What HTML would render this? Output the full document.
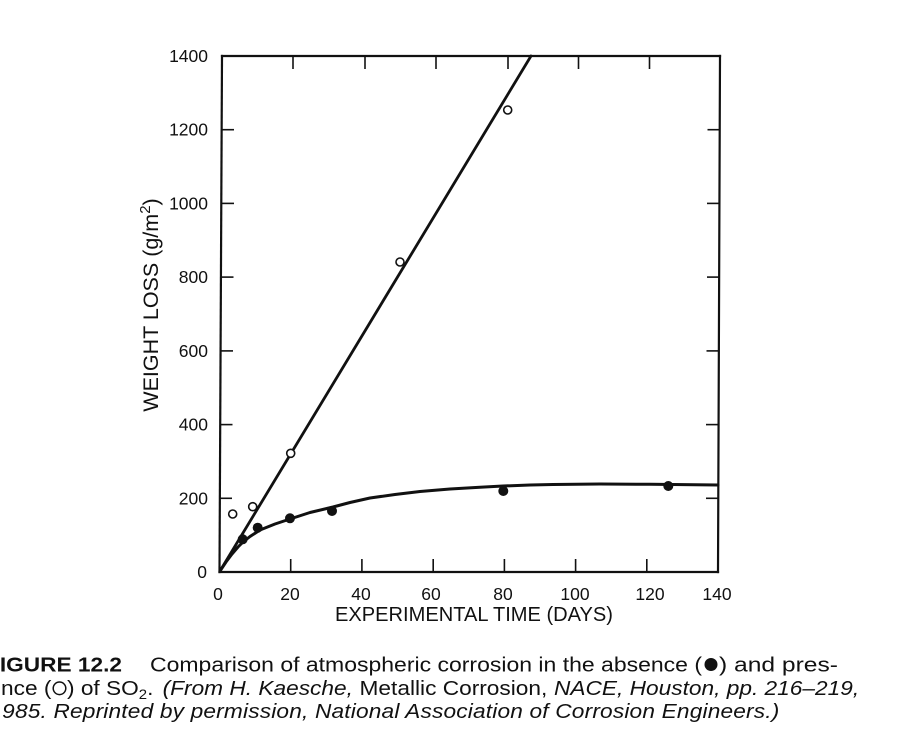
<!DOCTYPE html>
<html>
<head>
<meta charset="utf-8">
<style>
  html,body{margin:0;padding:0;background:#fff;}
  body{width:912px;height:748px;overflow:hidden;}
  svg{display:block;}
  text{font-family:"Liberation Sans", Arial, sans-serif;fill:#111;}
</style>
</head>
<body>
<svg width="912" height="748" viewBox="0 0 912 748" xmlns="http://www.w3.org/2000/svg">
  <rect width="912" height="748" fill="#fff"/>

  <!-- axes frame (slightly skewed like scan) -->
  <g stroke="#111" stroke-width="2.2" fill="none" stroke-linecap="square">
    <line x1="222" y1="56" x2="219.5" y2="572"/>
    <line x1="720" y1="56" x2="718" y2="572"/>
    <line x1="222" y1="56" x2="720" y2="56"/>
    <line x1="219.5" y1="572" x2="718" y2="572"/>
  </g>

  <!-- ticks -->
  <g stroke="#111" stroke-width="1.6">
    <line x1="290.7" y1="572" x2="290.7" y2="559"/>
    <line x1="361.9" y1="572" x2="361.9" y2="559"/>
    <line x1="433.2" y1="572" x2="433.2" y2="559"/>
    <line x1="504.4" y1="572" x2="504.4" y2="559"/>
    <line x1="575.6" y1="572" x2="575.6" y2="559"/>
    <line x1="646.8" y1="572" x2="646.8" y2="559"/>
    <line x1="293" y1="56" x2="293" y2="69"/>
    <line x1="365" y1="56" x2="365" y2="69"/>
    <line x1="436" y1="56" x2="436" y2="69"/>
    <line x1="508" y1="56" x2="508" y2="69"/>
    <line x1="578.5" y1="56" x2="578.5" y2="69"/>
    <line x1="649.5" y1="56" x2="649.5" y2="69"/>
    <line x1="219.8" y1="498.3" x2="232" y2="498.3"/>
    <line x1="220.2" y1="424.6" x2="232.5" y2="424.6"/>
    <line x1="220.5" y1="350.9" x2="233" y2="350.9"/>
    <line x1="220.9" y1="277.1" x2="233.5" y2="277.1"/>
    <line x1="221.2" y1="203.4" x2="234" y2="203.4"/>
    <line x1="221.6" y1="129.7" x2="234" y2="129.7"/>
    <line x1="706" y1="498.3" x2="718.3" y2="498.3"/>
    <line x1="706" y1="424.6" x2="718.6" y2="424.6"/>
    <line x1="706.5" y1="350.9" x2="718.9" y2="350.9"/>
    <line x1="707" y1="277.1" x2="719.2" y2="277.1"/>
    <line x1="707" y1="203.4" x2="719.4" y2="203.4"/>
    <line x1="707.5" y1="129.7" x2="719.7" y2="129.7"/>
  </g>

  <!-- y tick labels -->
  <g font-size="17.5" text-anchor="end">
    <text x="207" y="578">0</text>
    <text x="208" y="504.3">200</text>
    <text x="208" y="430.6">400</text>
    <text x="208" y="356.9">600</text>
    <text x="208" y="283.1">800</text>
    <text x="208" y="209.4">1000</text>
    <text x="208" y="135.7">1200</text>
    <text x="208" y="62">1400</text>
  </g>

  <!-- x tick labels -->
  <g font-size="17.5" text-anchor="middle">
    <text x="218" y="600">0</text>
    <text x="290" y="600">20</text>
    <text x="361" y="600">40</text>
    <text x="431" y="600">60</text>
    <text x="503" y="600">80</text>
    <text x="575" y="600">100</text>
    <text x="650" y="600">120</text>
    <text x="717" y="600">140</text>
  </g>

  <!-- axis titles -->
  <text x="335" y="621" font-size="20" textLength="278" lengthAdjust="spacingAndGlyphs">EXPERIMENTAL TIME (DAYS)</text>
  <text x="158" y="305" font-size="21.5" text-anchor="middle" transform="rotate(-90 158 305)">WEIGHT LOSS (g/m<tspan font-size="15" dy="-8">2</tspan><tspan dy="8">)</tspan></text>

  <!-- series: with SO2 (straight line) -->
  <line x1="220" y1="571" x2="531" y2="56" stroke="#111" stroke-width="2.8" stroke-linecap="round"/>

  <!-- series: without SO2 (saturating curve) -->
  <polyline fill="none" stroke="#111" stroke-width="3" stroke-linejoin="round" stroke-linecap="round"
    points="220,571 226,562 232,554 238,547 243,542 250,536.5 260,530 275,524 290,519 310,512.5 333,507 350,502.5 370,498 395,494.5 420,491.5 450,489 480,487.3 503,486 530,485 553,484.5 600,484 650,484.3 718,485"/>

  <!-- open circles -->
  <g fill="#fff" stroke="#111" stroke-width="1.6">
    <circle cx="232.7" cy="514" r="4"/>
    <circle cx="252.7" cy="506.7" r="4"/>
    <circle cx="290.7" cy="453.3" r="4"/>
    <circle cx="400" cy="262" r="4"/>
    <circle cx="507.7" cy="110" r="4"/>
  </g>

  <!-- filled circles -->
  <g fill="#111">
    <circle cx="242.7" cy="539.3" r="5"/>
    <circle cx="257.7" cy="527.7" r="5"/>
    <circle cx="290" cy="518.3" r="5"/>
    <circle cx="332" cy="511" r="5"/>
    <circle cx="503.3" cy="491" r="5"/>
    <circle cx="668.3" cy="486" r="5"/>
  </g>

  <!-- caption line 1 -->
  <g font-size="20.5">
    <text x="-14" y="671.5" font-weight="bold" textLength="136" lengthAdjust="spacingAndGlyphs">FIGURE 12.2</text>
    <text x="150" y="671.5" textLength="552" lengthAdjust="spacingAndGlyphs">Comparison of atmospheric corrosion in the absence (</text>
    <text x="719" y="671.5" textLength="119" lengthAdjust="spacingAndGlyphs">) and pres-</text>
  </g>
  <circle cx="711" cy="664.5" r="6.5" fill="#111"/>

  <!-- caption lines 2-3 -->
  <g transform="scale(1.107,1)" font-size="20.5">
    <text x="-10.48" y="695">ence (</text>
    <text x="60.5" y="695">) of SO<tspan font-size="13.5" dy="4">2</tspan><tspan dy="-4">.</tspan></text>
    <text x="146.9" y="695" font-style="italic">(From H. Kaesche,</text>
    <text x="324.8" y="695">Metallic Corrosion,</text>
    <text x="500.5" y="695" font-style="italic">NACE, Houston, pp. 216–219,</text>
    <text x="-9.6" y="718" font-style="italic" textLength="713.6" lengthAdjust="spacing">1985. Reprinted by permission, National Association of Corrosion Engineers.)</text>
  </g>
  <circle cx="59.5" cy="688.3" r="6.3" fill="none" stroke="#111" stroke-width="1.5"/>
</svg>
</body>
</html>
